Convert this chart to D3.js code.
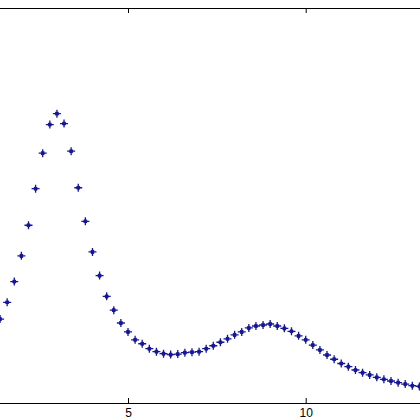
<!DOCTYPE html>
<html>
<head>
<meta charset="utf-8">
<script src="https://cdn.jsdelivr.net/npm/d3@7/dist/d3.min.js"></script>
<style>
  body { margin: 0; background: #fff; }
  svg { display: block; }
  .tick text { font-family: "Liberation Sans", Arial, sans-serif; font-size: 12px; fill: #000; }
</style>
</head>
<body>
<svg width="420" height="420"></svg>
<script>
// visible part of the series (x step 0.2)
var xValues = [1.4, 1.6, 1.8, 2.0, 2.2, 2.4, 2.6, 2.8, 3.0, 3.2,
               3.4, 3.6, 3.8, 4.0, 4.2, 4.4, 4.6, 4.8, 5.0, 5.2,
               5.4, 5.6, 5.8, 6.0, 6.2, 6.4, 6.6, 6.8, 7.0, 7.2,
               7.4, 7.6, 7.8, 8.0, 8.2, 8.4, 8.6, 8.8, 9.0, 9.2,
               9.4, 9.6, 9.8, 10.0, 10.2, 10.4, 10.6, 10.8, 11.0, 11.2,
               11.4, 11.6, 11.8, 12.0, 12.2, 12.4, 12.6, 12.8, 13.0, 13.2];
var yValues = [0.085, 0.102, 0.123, 0.149, 0.180, 0.217, 0.253, 0.282, 0.293, 0.283,
               0.255, 0.218, 0.184, 0.153, 0.129, 0.108, 0.094, 0.081, 0.072, 0.064,
               0.060, 0.055, 0.052, 0.050, 0.049, 0.0495, 0.051, 0.0515, 0.052, 0.055,
               0.058, 0.0615, 0.065, 0.069, 0.072, 0.076, 0.078, 0.079, 0.080, 0.078,
               0.0756, 0.0726, 0.068, 0.064, 0.0587, 0.0537, 0.0486, 0.0443, 0.040, 0.0368,
               0.0334, 0.0307, 0.0284, 0.026, 0.024, 0.0223, 0.0206, 0.0192, 0.0175, 0.0168];
var xTicks = [5, 10];

var svg = d3.select("svg"),
    width = +svg.attr("width"),
    height = +svg.attr("height");

var top_ = 8, bottom = 403;

var x = d3.scaleLinear().domain([5, 10]).range([128, 305.7]);
var y = d3.scaleLinear().domain([0, 0.4]).range([bottom, top_]);

// axes box lines (left / right edges are outside the crop)
svg.append("line")
    .attr("x1", 0).attr("x2", width)
    .attr("y1", top_ + 0.5).attr("y2", top_ + 0.5)
    .attr("stroke", "#000");
svg.append("line")
    .attr("x1", 0).attr("x2", width)
    .attr("y1", bottom + 0.5).attr("y2", bottom + 0.5)
    .attr("stroke", "#000");

var xAxis = svg.append("g")
    .attr("transform", "translate(0," + bottom + ")")
    .call(d3.axisBottom(x).tickValues(xTicks).tickFormat(d3.format("d"))
        .tickSizeInner(-5).tickSizeOuter(0).tickPadding(5));
xAxis.select(".domain").remove();

var xTop = svg.append("g")
    .attr("transform", "translate(0," + top_ + ")")
    .call(d3.axisTop(x).tickValues(xTicks).tickSizeInner(-5).tickSizeOuter(0).tickFormat(""));
xTop.select(".domain").remove();

// asterisk markers: long plus arms, short diagonals, dense center
var star = "M-4,0H4M0,-4V4M-1.6,-1.6L1.6,1.6M-1.6,1.6L1.6,-1.6";

var marks = svg.append("g")
    .selectAll("g")
    .data(xValues)
    .enter().append("g")
    .attr("transform", function(d, i) { return "translate(" + x(d) + "," + y(yValues[i]) + ")"; });

marks.append("path")
    .attr("d", star)
    .attr("fill", "none")
    .attr("stroke", "#16169a")
    .attr("stroke-width", 1.3);

marks.append("circle")
    .attr("r", 1.4)
    .attr("fill", "#16169a");
</script>
</body>
</html>
